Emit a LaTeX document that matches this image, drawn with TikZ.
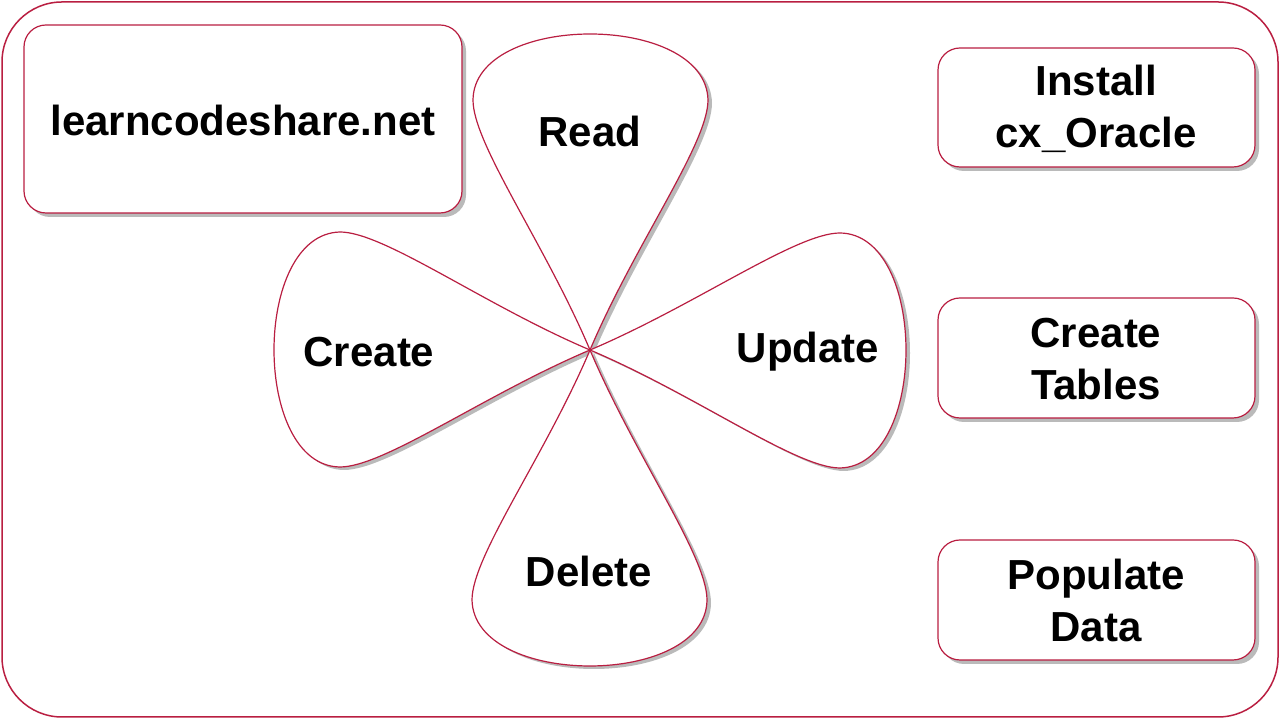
\documentclass[tikz,border=0pt]{standalone}
\usepackage{fontspec}
\setmainfont{Liberation Sans}
\usetikzlibrary{shadows,calc}
\definecolor{bord}{RGB}{185,30,65}
\begin{document}
\begin{tikzpicture}[x=1pt,y=1pt,
  lbl/.style={font=\fontsize{42}{52}\selectfont\bfseries,align=center},
  card/.style={draw=bord,line width=1.2pt,fill=white,rounded corners=22pt,
     drop shadow={shadow xshift=4pt,shadow yshift=-4pt,fill=black!45,opacity=0.6}},
  petal/.style={draw=bord,line width=1.2pt,fill=white,
     drop shadow={shadow xshift=4pt,shadow yshift=-3pt,fill=black!45,opacity=0.6}}]
\useasboundingbox (0,0) rectangle (1280,719);
\draw[bord,line width=1.5pt,rounded corners=60pt] (2,2) rectangle (1278,717);
\coordinate (T) at (590,369);
\foreach \r in {0,-90,90,180}{
  \begin{scope}[rotate around={\r:(T)}]
  \path[petal] (T) .. controls (545,475) and (473,575) .. (473,619)
     .. controls (474,707) and (706,707) .. (708,619)
     .. controls (708,575) and (635,475) .. (T) -- cycle;
  \end{scope}}
\node[lbl] (read) at (590,588) {Read};
\node[lbl] (update) at (808,367) {Update};
\node[lbl] (create) at (369,367) {Create};
\node[lbl] (delete) at (589,148) {Delete};
\path[card] (24,506) rectangle (462,694);
\node[lbl] (site) at (243,599) {learncodeshare.net};
\path[card] (938,552) rectangle (1255,671);
\node[lbl] (inst) at (1096,610) {Install\\cx\_Oracle};
\path[card] (938,301) rectangle (1255,421);
\node[lbl] (tabs) at (1096,360) {Create\\Tables};
\path[card] (938,59) rectangle (1255,179);
\node[lbl] (pop) at (1096,119) {Populate\\Data};
\end{tikzpicture}
\end{document}
